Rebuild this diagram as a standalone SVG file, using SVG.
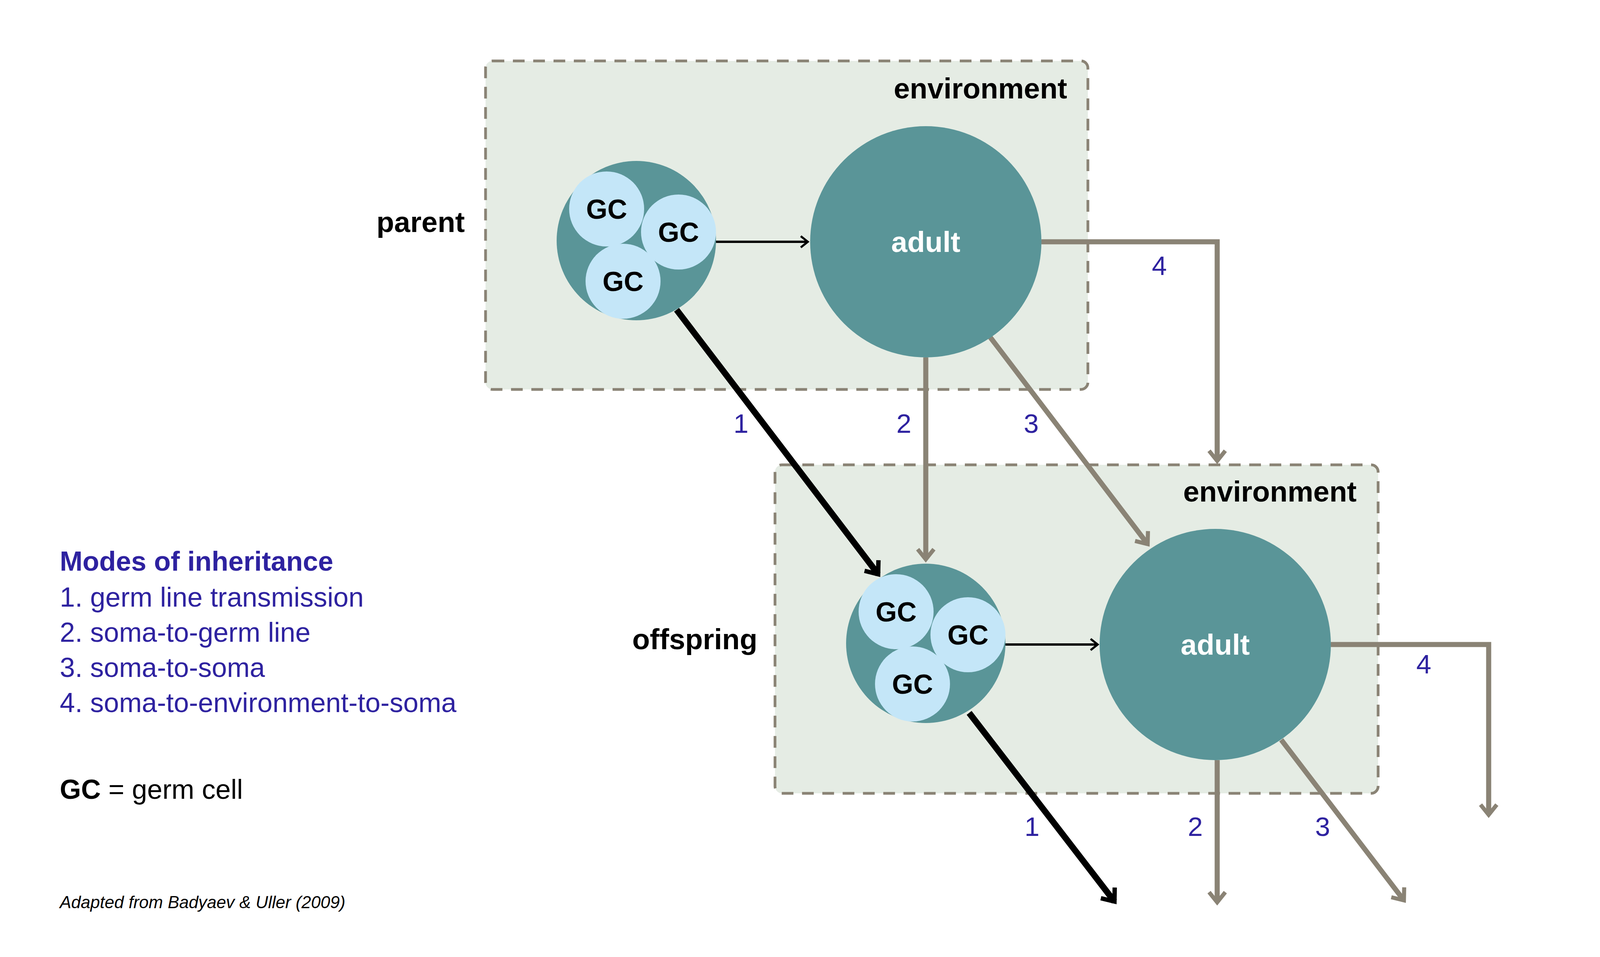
<svg xmlns="http://www.w3.org/2000/svg" width="4100" height="2450" viewBox="0 0 4100 2450">
<style>
text{font-family:"Liberation Sans",Arial,sans-serif}
.env{fill:#e5ece4;stroke:#8a8375;stroke-width:7;stroke-dasharray:30 22}
.big{fill:#5a9598}
.gc{fill:#c4e6f8}
.gct{font-size:70px;font-weight:bold;fill:#000;text-anchor:middle}
.ad{font-size:74px;font-weight:bold;fill:#fff;text-anchor:middle}
.lb{font-size:74px;font-weight:bold;fill:#000}
.num{font-size:69px;fill:#2e22a0;text-anchor:middle}
.leg{font-size:70px;fill:#2e22a0}
.g{fill:none;stroke:#8a8375;stroke-width:13}
.k{fill:none;stroke:#000;stroke-width:16}
</style>
<defs>
<marker id="mg" viewBox="0 0 10 10" refX="7" refY="5" markerWidth="4" markerHeight="4" orient="auto" markerUnits="strokeWidth"><path d="M2,1 L7,5 L2,9" fill="none" stroke="#8a8375" stroke-width="2"/></marker>
<marker id="mk" viewBox="0 0 10 10" refX="7" refY="5" markerWidth="3.5" markerHeight="3.5" orient="auto" markerUnits="strokeWidth"><path d="M2,1 L7,5 L2,9" fill="none" stroke="#000" stroke-width="2"/></marker>
<marker id="ms" viewBox="0 0 10 10" refX="8" refY="5" markerWidth="6" markerHeight="6" orient="auto" markerUnits="strokeWidth"><path d="M3,1 L8,5 L3,9" fill="none" stroke="#000" stroke-width="1.5"/></marker>
</defs>
<g id="env-parent"><rect class="env" x="1243" y="156" width="1542" height="841" rx="18"/><text class="lb" x="2732" y="252" text-anchor="end">environment</text></g>
<g id="env-offspring"><rect class="env" x="1984" y="1190" width="1544" height="841" rx="18"/><text class="lb" x="3473" y="1284" text-anchor="end">environment</text></g>
<text class="lb" x="1190" y="594" text-anchor="end">parent</text>
<text class="lb" x="1939" y="1662" text-anchor="end">offspring</text>
<g id="connectors">
<line x1="1833" y1="619" x2="2068" y2="619" stroke="#000" stroke-width="6" marker-end="url(#ms)"/>
<line x1="2454" y1="1650" x2="2810" y2="1650" stroke="#000" stroke-width="6" marker-end="url(#ms)"/>
<polyline class="g" points="2666,619 3116,619 3116,1180" marker-end="url(#mg)"/>
<line class="g" x1="2370" y1="915" x2="2370" y2="1432" marker-end="url(#mg)"/>
<line class="g" x1="2534" y1="862" x2="2938" y2="1393" marker-end="url(#mg)"/>
<line class="k" x1="1732" y1="793" x2="2248" y2="1470" marker-end="url(#mk)"/>
<line class="k" x1="2481" y1="1825" x2="2853" y2="2308" marker-end="url(#mk)"/>
<line class="g" x1="3116" y1="1946" x2="3116" y2="2310" marker-end="url(#mg)"/>
<line class="g" x1="3280" y1="1894" x2="3594" y2="2305" marker-end="url(#mg)"/>
<polyline class="g" points="3407,1650 3811,1650 3811,2086" marker-end="url(#mg)"/>
</g>
<g id="labels">
<text class="num" x="1897" y="1108">1</text><text class="num" x="2314" y="1108">2</text><text class="num" x="2640" y="1108">3</text><text class="num" x="2968" y="704">4</text>
<text class="num" x="2642" y="2140">1</text><text class="num" x="3060" y="2140">2</text><text class="num" x="3386" y="2140">3</text><text class="num" x="3645" y="1724">4</text>
</g>
<g id="gc-parent"><circle class="big" cx="1629" cy="616" r="204"/>
<circle class="gc" cx="1553" cy="535" r="96"/><circle class="gc" cx="1737" cy="594" r="96"/><circle class="gc" cx="1595" cy="720" r="96"/>
<text class="gct" x="1553" y="560">GC</text><text class="gct" x="1737" y="619">GC</text><text class="gct" x="1595" y="745">GC</text></g>
<g id="adult-parent"><circle class="big" cx="2370" cy="619" r="296"/><text class="ad" x="2370" y="645">adult</text></g>
<g id="gc-offspring"><circle class="big" cx="2370" cy="1647" r="204"/>
<circle class="gc" cx="2294" cy="1566" r="96"/><circle class="gc" cx="2478" cy="1625" r="96"/><circle class="gc" cx="2336" cy="1751" r="96"/>
<text class="gct" x="2294" y="1591">GC</text><text class="gct" x="2478" y="1650">GC</text><text class="gct" x="2336" y="1776">GC</text></g>
<g id="adult-offspring"><circle class="big" cx="3111" cy="1650" r="296"/><text class="ad" x="3111" y="1676">adult</text></g>
<g id="legend">
<text class="leg" x="153" y="1461" font-weight="bold" font-size="74">Modes of inheritance</text>
<text class="leg" x="153" y="1553">1. germ line transmission</text>
<text class="leg" x="153" y="1643">2. soma-to-germ line</text>
<text class="leg" x="153" y="1733">3. soma-to-soma</text>
<text class="leg" x="153" y="1823">4. soma-to-environment-to-soma</text>
<text x="153" y="2045" font-size="70"><tspan font-weight="bold">GC</tspan> = germ cell</text>
<text x="153" y="2325" font-size="44" font-style="italic">Adapted from Badyaev &amp; Uller (2009)</text>
</g>
</svg>
